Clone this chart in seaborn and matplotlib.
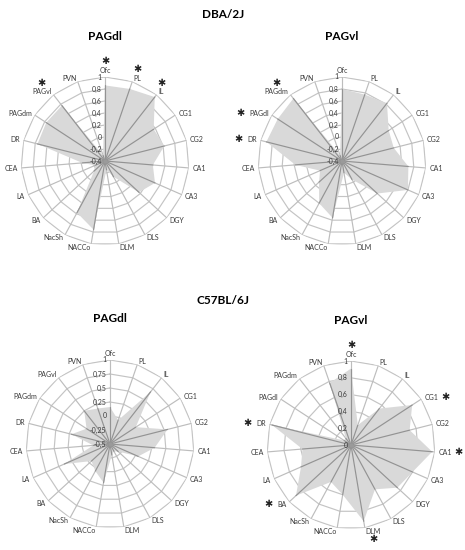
import numpy as np
import matplotlib.pyplot as plt
import seaborn as sns

sns.set_style('white')
plt.rcParams['font.family'] = ['Lato', 'DejaVu Sans']

# Region names (order of the spokes, clockwise from the top)
regions_a = ['Ofc', 'PL', 'IL', 'CG1', 'CG2', 'CA1', 'CA3', 'DGY', 'DLS', 'DLM',
             'NACCo', 'NacSh', 'BA', 'LA', 'CEA', 'DR', 'PAGdm', 'PAGvl', 'PVN']
regions_b = ['Ofc', 'PL', 'IL', 'CG1', 'CG2', 'CA1', 'CA3', 'DGY', 'DLS', 'DLM',
             'NACCo', 'NacSh', 'BA', 'LA', 'CEA', 'DR', 'PAGdl', 'PAGdm', 'PVN']

# Correlation values
dba_pagdl = [0.86, 0.87, 0.95, 0.57, 0.62, 0.40, 0.51, 0.37, -0.10, -0.25,
             0.76, 0.58, -0.15, -0.22, -0.02, 0.76, 0.77, 0.77, -0.30]
dba_pagvl = [0.80, 0.77, 0.82, 0.53, 0.49, 0.71, 0.80, 0.40, -0.05, -0.20,
             0.56, 0.40, 0.12, 0.00, 0.38, 0.90, 0.88, 0.92, -0.30]
c57_pagdl = [0.16, -0.05, 0.68, 0.05, 0.56, 0.30, 0.05, -0.30, -0.35, -0.30,
             0.20, 0.05, -0.05, 0.39, -0.20, 0.21, 0.00, 0.25, 0.17]
c57_pagvl = [0.91, 0.25, 0.55, 0.87, 0.72, 0.97, 0.80, 0.75, 0.60, 0.92,
             0.60, 0.50, 0.89, 0.65, 0.58, 0.97, 0.10, 0.10, 0.78]

# Radial scales
ticks_dba = [-0.4, -0.2, 0, 0.2, 0.4, 0.6, 0.8, 1]
tick_labels_dba = ['-0,4', '-0,2', '0', '0,2', '0,4', '0,6', '0,8', '1']
ticks_c57_dl = [-0.5, -0.25, 0, 0.25, 0.5, 0.75, 1]
tick_labels_c57_dl = ['-0,5', '-0,25', '0', '0,25', '0,5', '0,75', '1']
ticks_c57_vl = [0, 0.2, 0.4, 0.6, 0.8, 1]
tick_labels_c57_vl = ['0', '0,2', '0,4', '0,6', '0,8', '1']

# Significant regions
stars_dba_pagdl = ['Ofc', 'PL', 'IL', 'PAGvl']
stars_dba_pagvl = ['PAGdm', 'PAGdl', 'DR']
stars_c57_pagdl = []
stars_c57_pagvl = ['Ofc', 'CG1', 'CA1', 'DR', 'BA', 'DLM']

fill_colour = '#d9d9d9'
ring_colour = '#c4c4c4'
spoke_colour = '#bdbdbd'
inner_spoke = '#939393'
text_colour = '#3a3a3a'

W, H = 465, 550
fig = plt.figure(figsize=(W / 100, H / 100), dpi=100)


def radar(cx, cy, labels, values, ticks, tick_labels, stars, title):
    R = 84
    rect = [(cx - R) / W, (H - cy - R) / H, 2 * R / W, 2 * R / H]
    ax = fig.add_axes(rect, projection='polar')
    n = len(labels)
    angles = np.arange(n) * 2 * np.pi / n
    ax.set_theta_zero_location('N')
    ax.set_theta_direction(-1)
    ax.set_ylim(ticks[0], ticks[-1])
    ax.grid(False)
    ax.spines['polar'].set_visible(False)
    ax.set_xticks([])
    ax.set_yticks([])
    ax.patch.set_alpha(0)

    closed = np.append(angles, angles[0])
    for t in ticks[1:]:
        ax.plot(closed, np.full(n + 1, t), color=ring_colour, lw=0.85, zorder=1)
    for a in angles:
        ax.plot([a, a], [ticks[0], ticks[-1]], color=spoke_colour, lw=0.85, zorder=1)

    ax.fill(closed, np.append(values, values[0]), color=fill_colour, lw=0, zorder=2)
    for a, v in zip(angles, values):
        ax.plot([a, a], [ticks[0], v], color=inner_spoke, lw=0.85, zorder=3)
    ax.plot([0], [ticks[0]], 'o', ms=3, color='#9a9a9a', mec='none', zorder=4)

    # radial tick labels along the top spoke
    for t, tl in zip(ticks, tick_labels):
        ax.annotate(tl, xy=(0, t), xytext=(-2.5, 0), textcoords='offset points',
                    ha='right', va='center', fontsize=5, color=text_colour, zorder=5)

    # category labels around the outer ring
    for a, lab in zip(angles, labels):
        s, c = np.sin(a), np.cos(a)
        ha = 'left' if s > 0.05 else ('right' if s < -0.05 else 'center')
        va = 'bottom' if c > 0.99 else 'center'
        txt = ax.annotate(lab, xy=(a, ticks[-1]), xytext=(2.5 * s, 2.5 * c),
                          textcoords='offset points', ha=ha, va=va,
                          fontsize=5, color=text_colour, annotation_clip=False)
        if lab in stars:
            if abs(c) > 0.7:
                pos, off = ((0.5, 1), (0, 0.5)) if c > 0 else ((0.5, 0), (0, -0.5))
                sva = 'bottom' if c > 0 else 'top'
                ax.annotate('\u2731', xy=pos, xycoords=txt, xytext=off,
                            textcoords='offset points', ha='center', va=sva,
                            fontsize=7, color='#222222', annotation_clip=False)
            else:
                pos, off, sha = ((1, 0.5), (2, 0), 'left') if s > 0 else ((0, 0.5), (-3.5, 0), 'right')
                ax.annotate('\u2731', xy=pos, xycoords=txt, xytext=off,
                            textcoords='offset points', ha=sha, va='center',
                            fontsize=7, color='#222222', annotation_clip=False)

    fig.text(cx / W, 1 - (cy - R - 41) / H, title, ha='center', va='center',
             fontsize=8.5, fontweight='bold', color='black')
    return ax


fig.text(223 / W, 1 - 15 / H, 'DBA/2J', ha='center', va='center',
         fontsize=8.5, fontweight='bold', color='black')
fig.text(223 / W, 1 - 300 / H, 'C57BL/6J', ha='center', va='center',
         fontsize=8.5, fontweight='bold', color='black')

radar(105, 161, regions_a, dba_pagdl, ticks_dba, tick_labels_dba, stars_dba_pagdl, 'PAGdl')
radar(342, 161, regions_b, dba_pagvl, ticks_dba, tick_labels_dba, stars_dba_pagvl, 'PAGvl')
radar(110, 444, regions_a, c57_pagdl, ticks_c57_dl, tick_labels_c57_dl, stars_c57_pagdl, 'PAGdl')
radar(351, 445, regions_b, c57_pagvl, ticks_c57_vl, tick_labels_c57_vl, stars_c57_pagvl, 'PAGvl')

fig.savefig('out.png', dpi=100, facecolor='white')
